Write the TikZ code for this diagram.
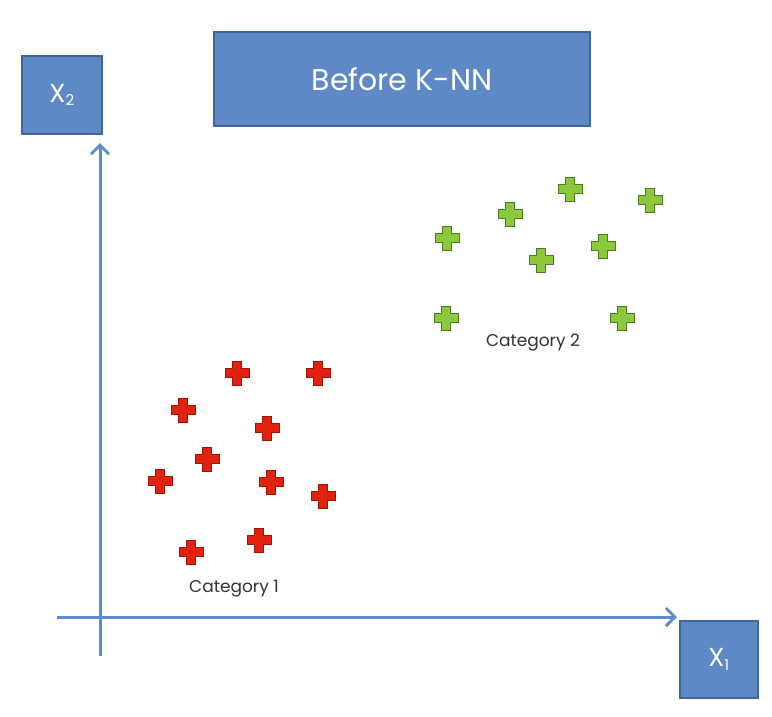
\documentclass[tikz,border=0pt]{standalone}
\usepackage{fontspec}
\setmainfont{Poppins}
\usetikzlibrary{arrows.meta}
\definecolor{boxfill}{HTML}{5F88C6}
\definecolor{boxedge}{HTML}{3F659C}
\definecolor{axis}{HTML}{5E8DCB}
\definecolor{redf}{HTML}{E0220F}
\definecolor{rede}{HTML}{A01408}
\definecolor{grnf}{HTML}{8CC83C}
\definecolor{grne}{HTML}{4E7A22}
\tikzset{
  lbox/.style={draw=boxedge,fill=boxfill,line width=2pt,text=white,inner sep=0pt},
  ax/.style={draw=axis,line width=3pt,-{Straight Barb[length=9pt,width=18pt,line width=3pt]}},
  cat/.style={font=\fontsize{17}{20}\selectfont,text=black!80},
  pics/plus/.style n args={2}{code={
    \path[draw=#2,fill=#1,line width=1pt] (-4.5,-12)--(4.5,-12)--(4.5,-4.5)--(12,-4.5)--(12,4.5)--(4.5,4.5)--(4.5,12)--(-4.5,12)--(-4.5,4.5)--(-12,4.5)--(-12,-4.5)--(-4.5,-4.5)--cycle;}}
}
\begin{document}
\begin{tikzpicture}[x=1pt,y=-1pt]
\useasboundingbox[fill=white] (0,0) rectangle (772,716);
\node[lbox,minimum width=80pt,minimum height=78pt,anchor=north west] (x2) at (21,55) {\fontsize{26}{30}\selectfont X\textsubscript{\fontsize{15}{18}\selectfont 2}};
\node[lbox,minimum width=376pt,minimum height=94pt,anchor=north west] (title) at (213,31) {\fontsize{30}{36}\selectfont Before K-NN};
\node[lbox,minimum width=78pt,minimum height=77pt,anchor=north west] (x1) at (679,620) {\fontsize{26}{30}\selectfont X\textsubscript{\fontsize{15}{18}\selectfont 1}};
\coordinate (ys) at (100,656);
\coordinate (ye) at (100,143);
\coordinate (xs) at (57,617);
\coordinate (xe) at (677,617);
\draw[ax] (ys) -- (ye);
\draw[ax] (xs) -- (xe);
\foreach \p in {(237,373),(318,373),(183,410),(267,428),(207,459),(160,481),(271,482),(323,496),(191,552),(259,540)}
  \pic at \p {plus={redf}{rede}};
\foreach \p in {(447,238),(510,214),(570,189),(650,200),(541,260),(603,246),(446,318),(622,318)}
  \pic at \p {plus={grnf}{grne}};
\node[cat] (c1) at (234,589) {Category 1};
\node[cat] (c2) at (533,343) {Category 2};
\end{tikzpicture}
\end{document}
